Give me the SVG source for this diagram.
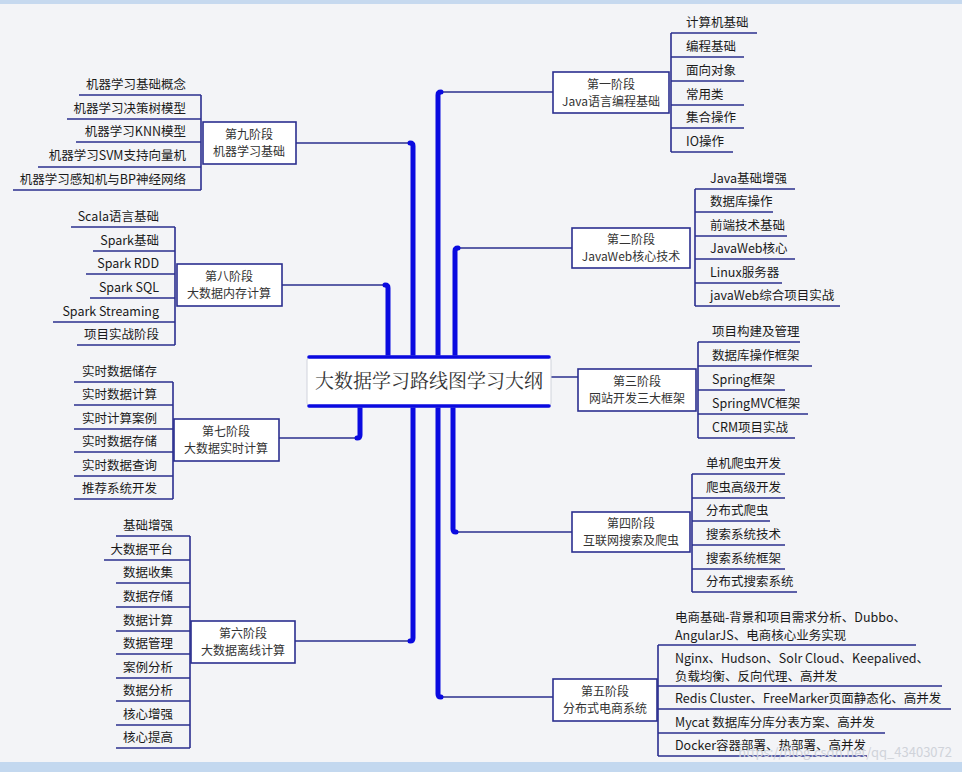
<svg xmlns="http://www.w3.org/2000/svg" width="962" height="772" viewBox="0 0 962 772">
<style>
text{font-family:"Noto Sans CJK SC","Liberation Sans",sans-serif;font-size:12.5px;fill:#1a1a1a}
.r{text-anchor:end}
.m{text-anchor:middle;font-size:12px;fill:#333}
.thick{fill:none;stroke:#0a0ae0;stroke-width:5;stroke-linejoin:round;stroke-linecap:round}
.thin{fill:none;stroke:#2b2f8f;stroke-width:1.6}
.box{fill:#fff;stroke:#2b2f8f;stroke-width:1.6}
</style>
<rect width="962" height="772" fill="#f3f4f7"/>
<rect width="962" height="4" fill="#c6d9ef"/>
<rect y="762" width="962" height="10" fill="#c3d8ef"/>
<g id="connectors">
<path class="thin" d="M413 143H296M387 285H282M360 438H279M413 641H295M438 92H553M455 248H572M551 377H578M453 532H572M437 697H553"/>
<path class="thick" d="M413 356V146Q413 143 410 143M388 356V288Q388 285 385 285M438 356V95Q438 92 441 92M455 356V251Q455 248 458 248M360 407V435Q360 438 357 438M413 407V638Q413 641 410 641M438 407V694Q438 697 441 697M453 407V529Q453 532 456 532"/>
<path class="thin" d="M671 33V152M671 33H757M671 57H744M671 81H744M671 105H744M671 128H744M671 152H733
M695 189V306M695 189H795M695 212H773M695 236H787M695 259H795M695 283H782M695 306H840
M698 342V438M698 342H800M698 366H812M698 390H785M698 414H808M698 438H795
M692 474V592M692 474H785M692 498H785M692 521H770M692 545H785M692 569H785M692 592H797
M658 645V756M658 645H916M658 686H942M658 709H951M658 733H885M658 756H867
M201 95V190M201 95H79M201 119H67M201 142H76M201 167H38M201 190H13
M175 227V345M175 227H71M175 251H93M175 274H86M175 298H90M175 322H53M175 345H77
M173 382V499M173 382H74M173 405H74M173 429H74M173 452H74M173 476H74M173 499H74
M190 536V748M190 536H116M190 560H104M190 583H116M190 607H116M190 631H116M190 654H116M190 678H116M190 701H116M190 725H116M190 748H116"/>
</g>
<g id="center">
<rect x="307" y="356" width="244" height="51" rx="4" fill="#fff" stroke="#d0d3dc" stroke-width="1"/>
<path d="M309 357H549M309 406H549" fill="none" stroke="#0a0ae0" stroke-width="3.5" stroke-linecap="round"/>
<text x="429" y="388" text-anchor="middle" style="font-size:19px;fill:#333;font-family:'Noto Serif CJK SC','Liberation Serif','Noto Sans CJK SC',serif">大数据学习路线图学习大纲</text>
</g>
<g id="stage1"><rect class="box" x="553" y="72" width="116" height="41"/><text class="m" x="611" y="89">第一阶段</text><text class="m" x="611" y="106">Java语言编程基础</text>
<text x="686" y="27">计算机基础</text><text x="686" y="51">编程基础</text><text x="686" y="75">面向对象</text><text x="686" y="99">常用类</text><text x="686" y="122">集合操作</text><text x="686" y="146">IO操作</text></g>
<g id="stage2"><rect class="box" x="572" y="228" width="118" height="40"/><text class="m" x="631" y="244">第二阶段</text><text class="m" x="631" y="261">JavaWeb核心技术</text>
<text x="710" y="183">Java基础增强</text><text x="710" y="206">数据库操作</text><text x="710" y="230">前端技术基础</text><text x="710" y="253">JavaWeb核心</text><text x="710" y="277">Linux服务器</text><text x="710" y="300">javaWeb综合项目实战</text></g>
<g id="stage3"><rect class="box" x="578" y="369" width="118" height="42"/><text class="m" x="637" y="386">第三阶段</text><text class="m" x="637" y="403">网站开发三大框架</text>
<text x="712" y="336">项目构建及管理</text><text x="712" y="360">数据库操作框架</text><text x="712" y="384">Spring框架</text><text x="712" y="408">SpringMVC框架</text><text x="712" y="432">CRM项目实战</text></g>
<g id="stage4"><rect class="box" x="572" y="512" width="118" height="40"/><text class="m" x="631" y="528">第四阶段</text><text class="m" x="631" y="545">互联网搜索及爬虫</text>
<text x="706" y="468">单机爬虫开发</text><text x="706" y="492">爬虫高级开发</text><text x="706" y="515">分布式爬虫</text><text x="706" y="539">搜索系统技术</text><text x="706" y="563">搜索系统框架</text><text x="706" y="586">分布式搜索系统</text></g>
<g id="stage5"><rect class="box" x="553" y="679" width="104" height="42"/><text class="m" x="605" y="696">第五阶段</text><text class="m" x="605" y="713">分布式电商系统</text>
<text x="675" y="622">电商基础-背景和项目需求分析、Dubbo、</text><text x="675" y="640">AngularJS、电商核心业务实现</text>
<text x="675" y="663">Nginx、Hudson、Solr Cloud、Keepalived、</text><text x="675" y="681">负载均衡、反向代理、高并发</text>
<text x="675" y="703">Redis Cluster、FreeMarker页面静态化、高并发</text><text x="675" y="727">Mycat 数据库分库分表方案、高并发</text><text x="675" y="750">Docker容器部署、热部署、高并发</text></g>
<g id="stage9"><rect class="box" x="203" y="122" width="93" height="42"/><text class="m" x="249" y="139">第九阶段</text><text class="m" x="249" y="156">机器学习基础</text>
<text class="r" x="186" y="89">机器学习基础概念</text><text class="r" x="186" y="113">机器学习决策树模型</text><text class="r" x="186" y="136">机器学习KNN模型</text><text class="r" x="186" y="160">机器学习SVM支持向量机</text><text class="r" x="186" y="184">机器学习感知机与BP神经网络</text></g>
<g id="stage8"><rect class="box" x="177" y="264" width="105" height="42"/><text class="m" x="229" y="281">第八阶段</text><text class="m" x="229" y="298">大数据内存计算</text>
<text class="r" x="159" y="221">Scala语言基础</text><text class="r" x="159" y="245">Spark基础</text><text class="r" x="159" y="268">Spark RDD</text><text class="r" x="159" y="292">Spark SQL</text><text class="r" x="159" y="316">Spark Streaming</text><text class="r" x="159" y="339">项目实战阶段</text></g>
<g id="stage7"><rect class="box" x="174" y="419" width="105" height="42"/><text class="m" x="226" y="436">第七阶段</text><text class="m" x="226" y="453">大数据实时计算</text>
<text x="82" y="376">实时数据储存</text><text x="82" y="399">实时数据计算</text><text x="82" y="423">实时计算案例</text><text x="82" y="446">实时数据存储</text><text x="82" y="470">实时数据查询</text><text x="82" y="493">推荐系统开发</text></g>
<g id="stage6"><rect class="box" x="191" y="621" width="104" height="42"/><text class="m" x="243" y="638">第六阶段</text><text class="m" x="243" y="655">大数据离线计算</text>
<text class="r" x="173" y="530">基础增强</text><text class="r" x="173" y="554">大数据平台</text><text class="r" x="173" y="577">数据收集</text><text class="r" x="173" y="601">数据存储</text><text class="r" x="173" y="625">数据计算</text><text class="r" x="173" y="648">数据管理</text><text class="r" x="173" y="672">案例分析</text><text class="r" x="173" y="695">数据分析</text><text class="r" x="173" y="719">核心增强</text><text class="r" x="173" y="742">核心提高</text></g>
<text x="952" y="757" text-anchor="end" style="font-size:13px;fill:#d0d3da">https://blog.csdn.net/qq_43403072</text>
</svg>
